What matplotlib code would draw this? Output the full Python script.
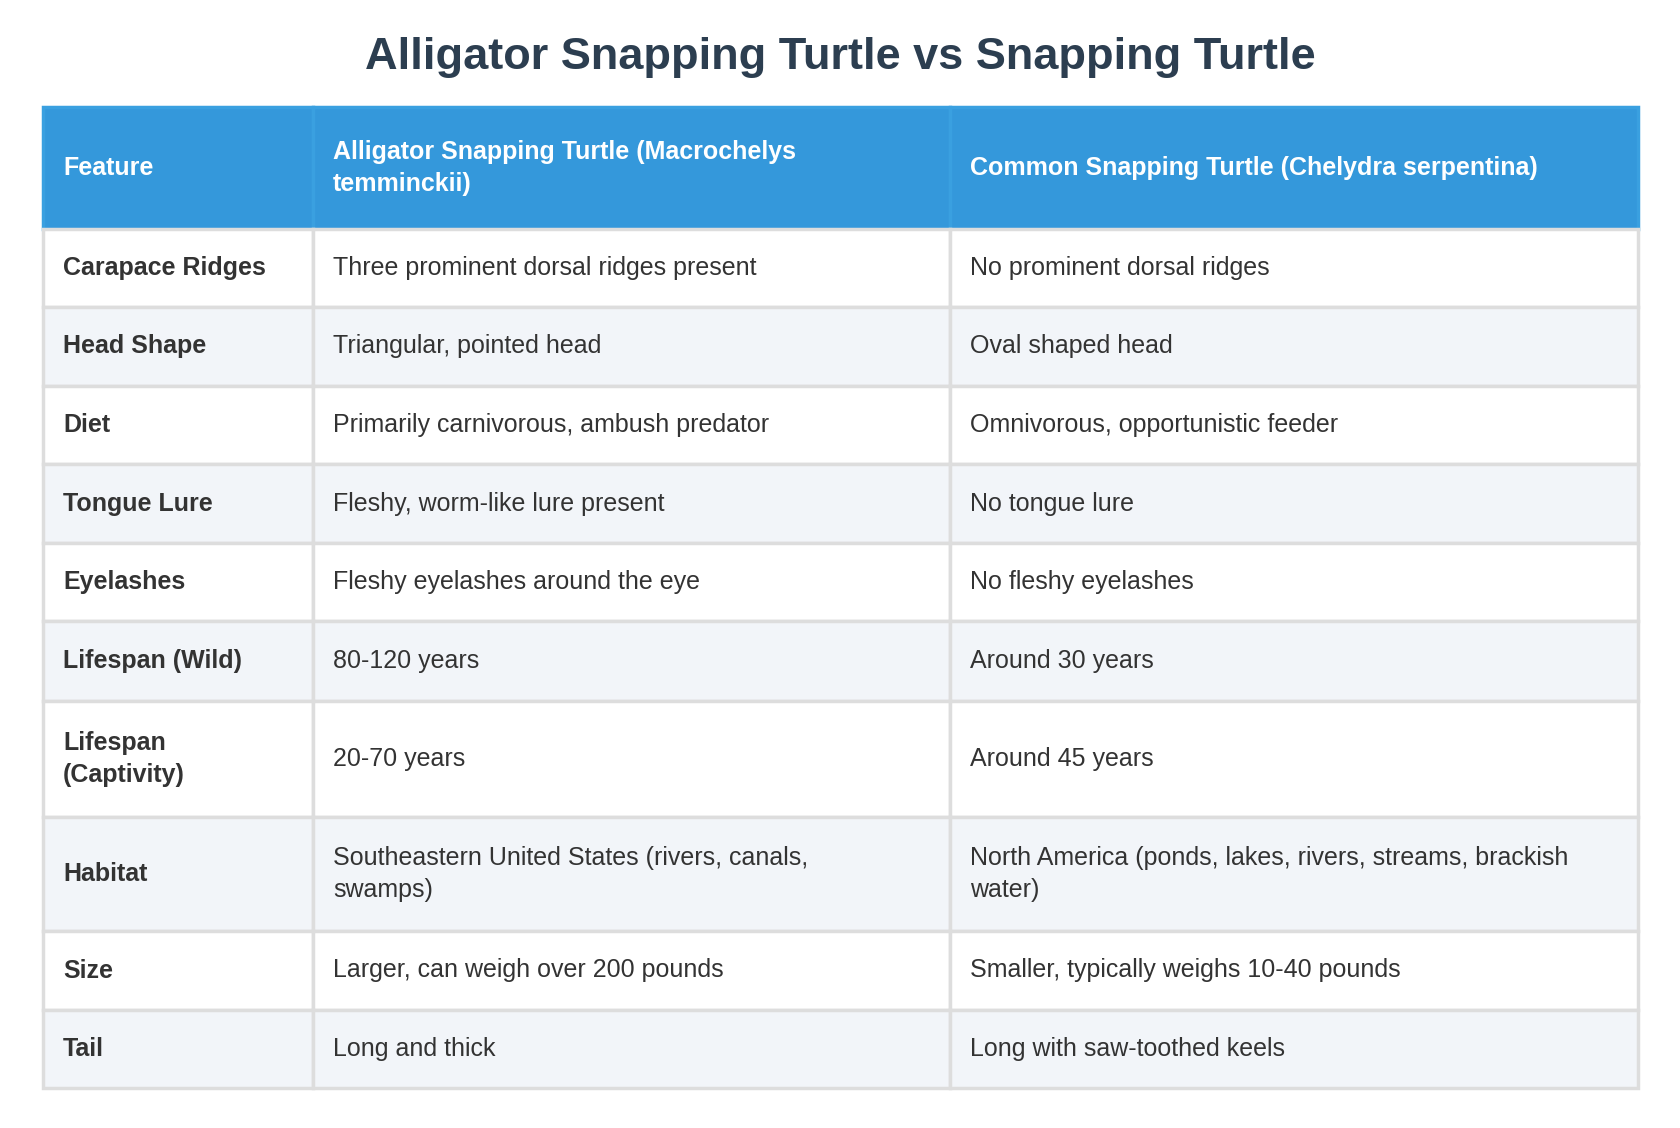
import matplotlib.pyplot as plt
from matplotlib.patches import Rectangle

plt.rcParams['font.family'] = ['Liberation Sans', 'DejaVu Sans']

title = "Alligator Snapping Turtle vs Snapping Turtle"
headers = ["Feature", "Alligator Snapping Turtle (Macrochelys\ntemminckii)",
           "Common Snapping Turtle (Chelydra serpentina)"]
features = ["Carapace Ridges", "Head Shape", "Diet", "Tongue Lure", "Eyelashes",
            "Lifespan (Wild)", "Lifespan\n(Captivity)", "Habitat", "Size", "Tail"]
alligator = ["Three prominent dorsal ridges present", "Triangular, pointed head",
             "Primarily carnivorous, ambush predator", "Fleshy, worm-like lure present",
             "Fleshy eyelashes around the eye", "80-120 years", "20-70 years",
             "Southeastern United States (rivers, canals,\nswamps)",
             "Larger, can weigh over 200 pounds", "Long and thick"]
common = ["No prominent dorsal ridges", "Oval shaped head", "Omnivorous, opportunistic feeder",
          "No tongue lure", "No fleshy eyelashes", "Around 30 years", "Around 45 years",
          "North America (ponds, lakes, rivers, streams, brackish\nwater)",
          "Smaller, typically weighs 10-40 pounds", "Long with saw-toothed keels"]

W, H = 1680, 1128
fig = plt.figure(figsize=(16.8, 11.28), dpi=100)
ax = fig.add_axes([0, 0, 1, 1])
ax.set_xlim(0, W)
ax.set_ylim(H, 0)
ax.axis('off')

cols = [43, 313, 950, 1638]
rows = [107, 229, 307, 386, 464, 543, 621, 701, 817, 931, 1010, 1088]

ax.text(W / 2, 57, title, ha='center', va='center', fontsize=32.5, fontweight='bold', color='#2c3e50')

grid = '#dddddd'
for r in range(len(rows) - 1):
    y0, y1 = rows[r], rows[r + 1]
    if r == 0:
        fc = '#3498db'
    else:
        fc = '#ffffff' if r % 2 == 1 else '#f2f5f9'
    for c in range(3):
        x0, x1 = cols[c], cols[c + 1]
        ec = '#3aa0e0' if r == 0 else grid
        ax.add_patch(Rectangle((x0, y0), x1 - x0, y1 - y0, facecolor=fc, edgecolor=ec, lw=2.5))
        if r == 0:
            txt, col, wt = headers[c], 'white', 'bold'
        else:
            txt = [features, alligator, common][c][r - 1]
            col = '#333333'
            wt = 'bold' if c == 0 else 'normal'
        ax.text(x0 + 20, (y0 + y1) / 2, txt, ha='left', va='center', fontsize=18,
                fontweight=wt, color=col, linespacing=1.45)

fig.savefig('out.png', dpi=100, facecolor='white')
